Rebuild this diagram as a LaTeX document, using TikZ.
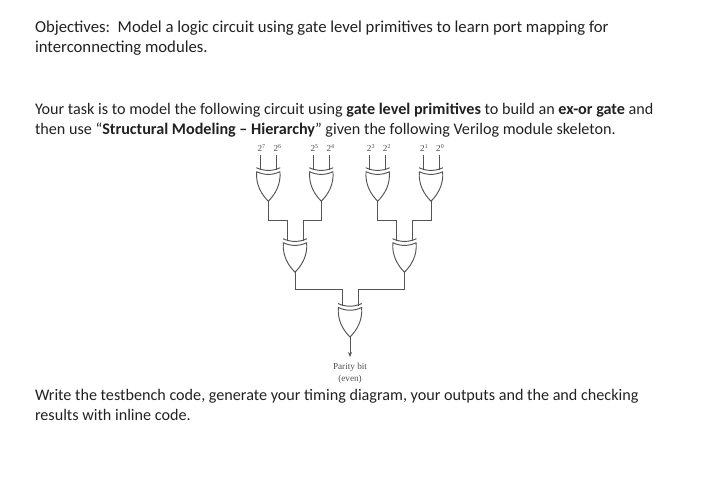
\documentclass[tikz,border=0pt]{standalone}
\usepackage{fontspec}
\setmainfont{Carlito}
\newfontfamily\figfont{Liberation Serif}
\usetikzlibrary{arrows.meta}
\definecolor{ink}{gray}{0.13}
\definecolor{wire}{gray}{0.33}
\tikzset{
  x=1pt,y=-1pt,
  txt/.style={anchor=base west,inner sep=0pt,outer sep=0pt,text=ink,font=\fontsize{16.15pt}{20pt}\selectfont},
  txtbig/.style={txt,font=\fontsize{16.7pt}{20pt}\selectfont},
  small/.style={anchor=base,inner sep=0pt,outer sep=0pt,text=ink!80,font=\figfont\fontsize{9.2pt}{10pt}\selectfont},
  powerlabel/.style={anchor=base,inner sep=0pt,outer sep=0pt,text=ink!80,font=\figfont\fontsize{9.2pt}{10pt}\selectfont},
  wireline/.style={draw=wire,line width=0.95pt},
  xorgate/.pic={
    \draw[wireline,line join=round] (-11.7,0) .. controls (-4,3.6) and (4,3.6) .. (11.7,0)
      .. controls (12.6,13) and (7,22.5) .. (0,29.5)
      .. controls (-7,22.5) and (-12.6,13) .. (-11.7,0) -- cycle;
    \draw[wireline] (-12,-4) .. controls (-4,-0.4) and (4,-0.4) .. (12,-4);
    \coordinate (-a) at (-8,-2);
    \coordinate (-b) at (8,-2);
    \coordinate (-o) at (0,29.5);
  }
}
\begin{document}
\begin{tikzpicture}
\useasboundingbox (0,0) rectangle (718,499);
\node[txtbig] (l1) at (35,32) {Objectives:\ \ Model a logic circuit using gate level primitives to learn port mapping for};
\node[txtbig] (l2) at (35,52) {interconnecting modules.};
\node[txt] (l3) at (35,114) {Your task is to model the following circuit using \textbf{gate level primitives} to build an \textbf{ex-or gate} and};
\node[txt] (l4) at (35,134) {then use “\textbf{Structural Modeling – Hierarchy}” given the following Verilog module skeleton.};
\node[txt] (l5) at (35,400) {Write the testbench code, generate your timing diagram, your outputs and the and checking};
\node[txt] (l6) at (35,420) {results with inline code.};

\pic (g1) at (268.3,171.7) {xorgate};
\pic (g2) at (321.3,171.7) {xorgate};
\pic (g3) at (377.7,171.7) {xorgate};
\pic (g4) at (431,171.7) {xorgate};
\pic (h1) at (295,242.7) {xorgate};
\pic (h2) at (404.5,242.7) {xorgate};
\pic (k) at (350,307.5) {xorgate};

\foreach \g/\ta/\tb/\xa/\xb in {g1/7/6/260.3/276.3,g2/5/4/313.3/329.3,g3/3/2/369.7/385.7,g4/1/0/423/439}{
  \node[powerlabel] (\g ta) at (\xa+1,151) {2\raisebox{2.6pt}{\fontsize{6pt}{6pt}\selectfont\ta}};
  \node[powerlabel] (\g tb) at (\xb+1,151) {2\raisebox{2.6pt}{\fontsize{6pt}{6pt}\selectfont\tb}};
  \draw[wireline] (\xa,155) -- (\g-a);
  \draw[wireline] (\xb,155) -- (\g-b);
}
\draw[wireline] (g1-o) |- (287,220.3) -- (h1-a);
\draw[wireline] (g2-o) |- (303,220.3) -- (h1-b);
\draw[wireline] (g3-o) |- (396.5,220.3) -- (h2-a);
\draw[wireline] (g4-o) |- (412.5,220.3) -- (h2-b);
\draw[wireline] (h1-o) |- (342,289) -- (k-a);
\draw[wireline] (h2-o) |- (358,289) -- (k-b);
\node[small] (p1) at (350,369) {Parity bit};
\node[small] (p2) at (350,381) {(even)};
\draw[wireline,-{Stealth[length=5pt,width=4pt]}] (k-o) -- (350,357);
\end{tikzpicture}
\end{document}
